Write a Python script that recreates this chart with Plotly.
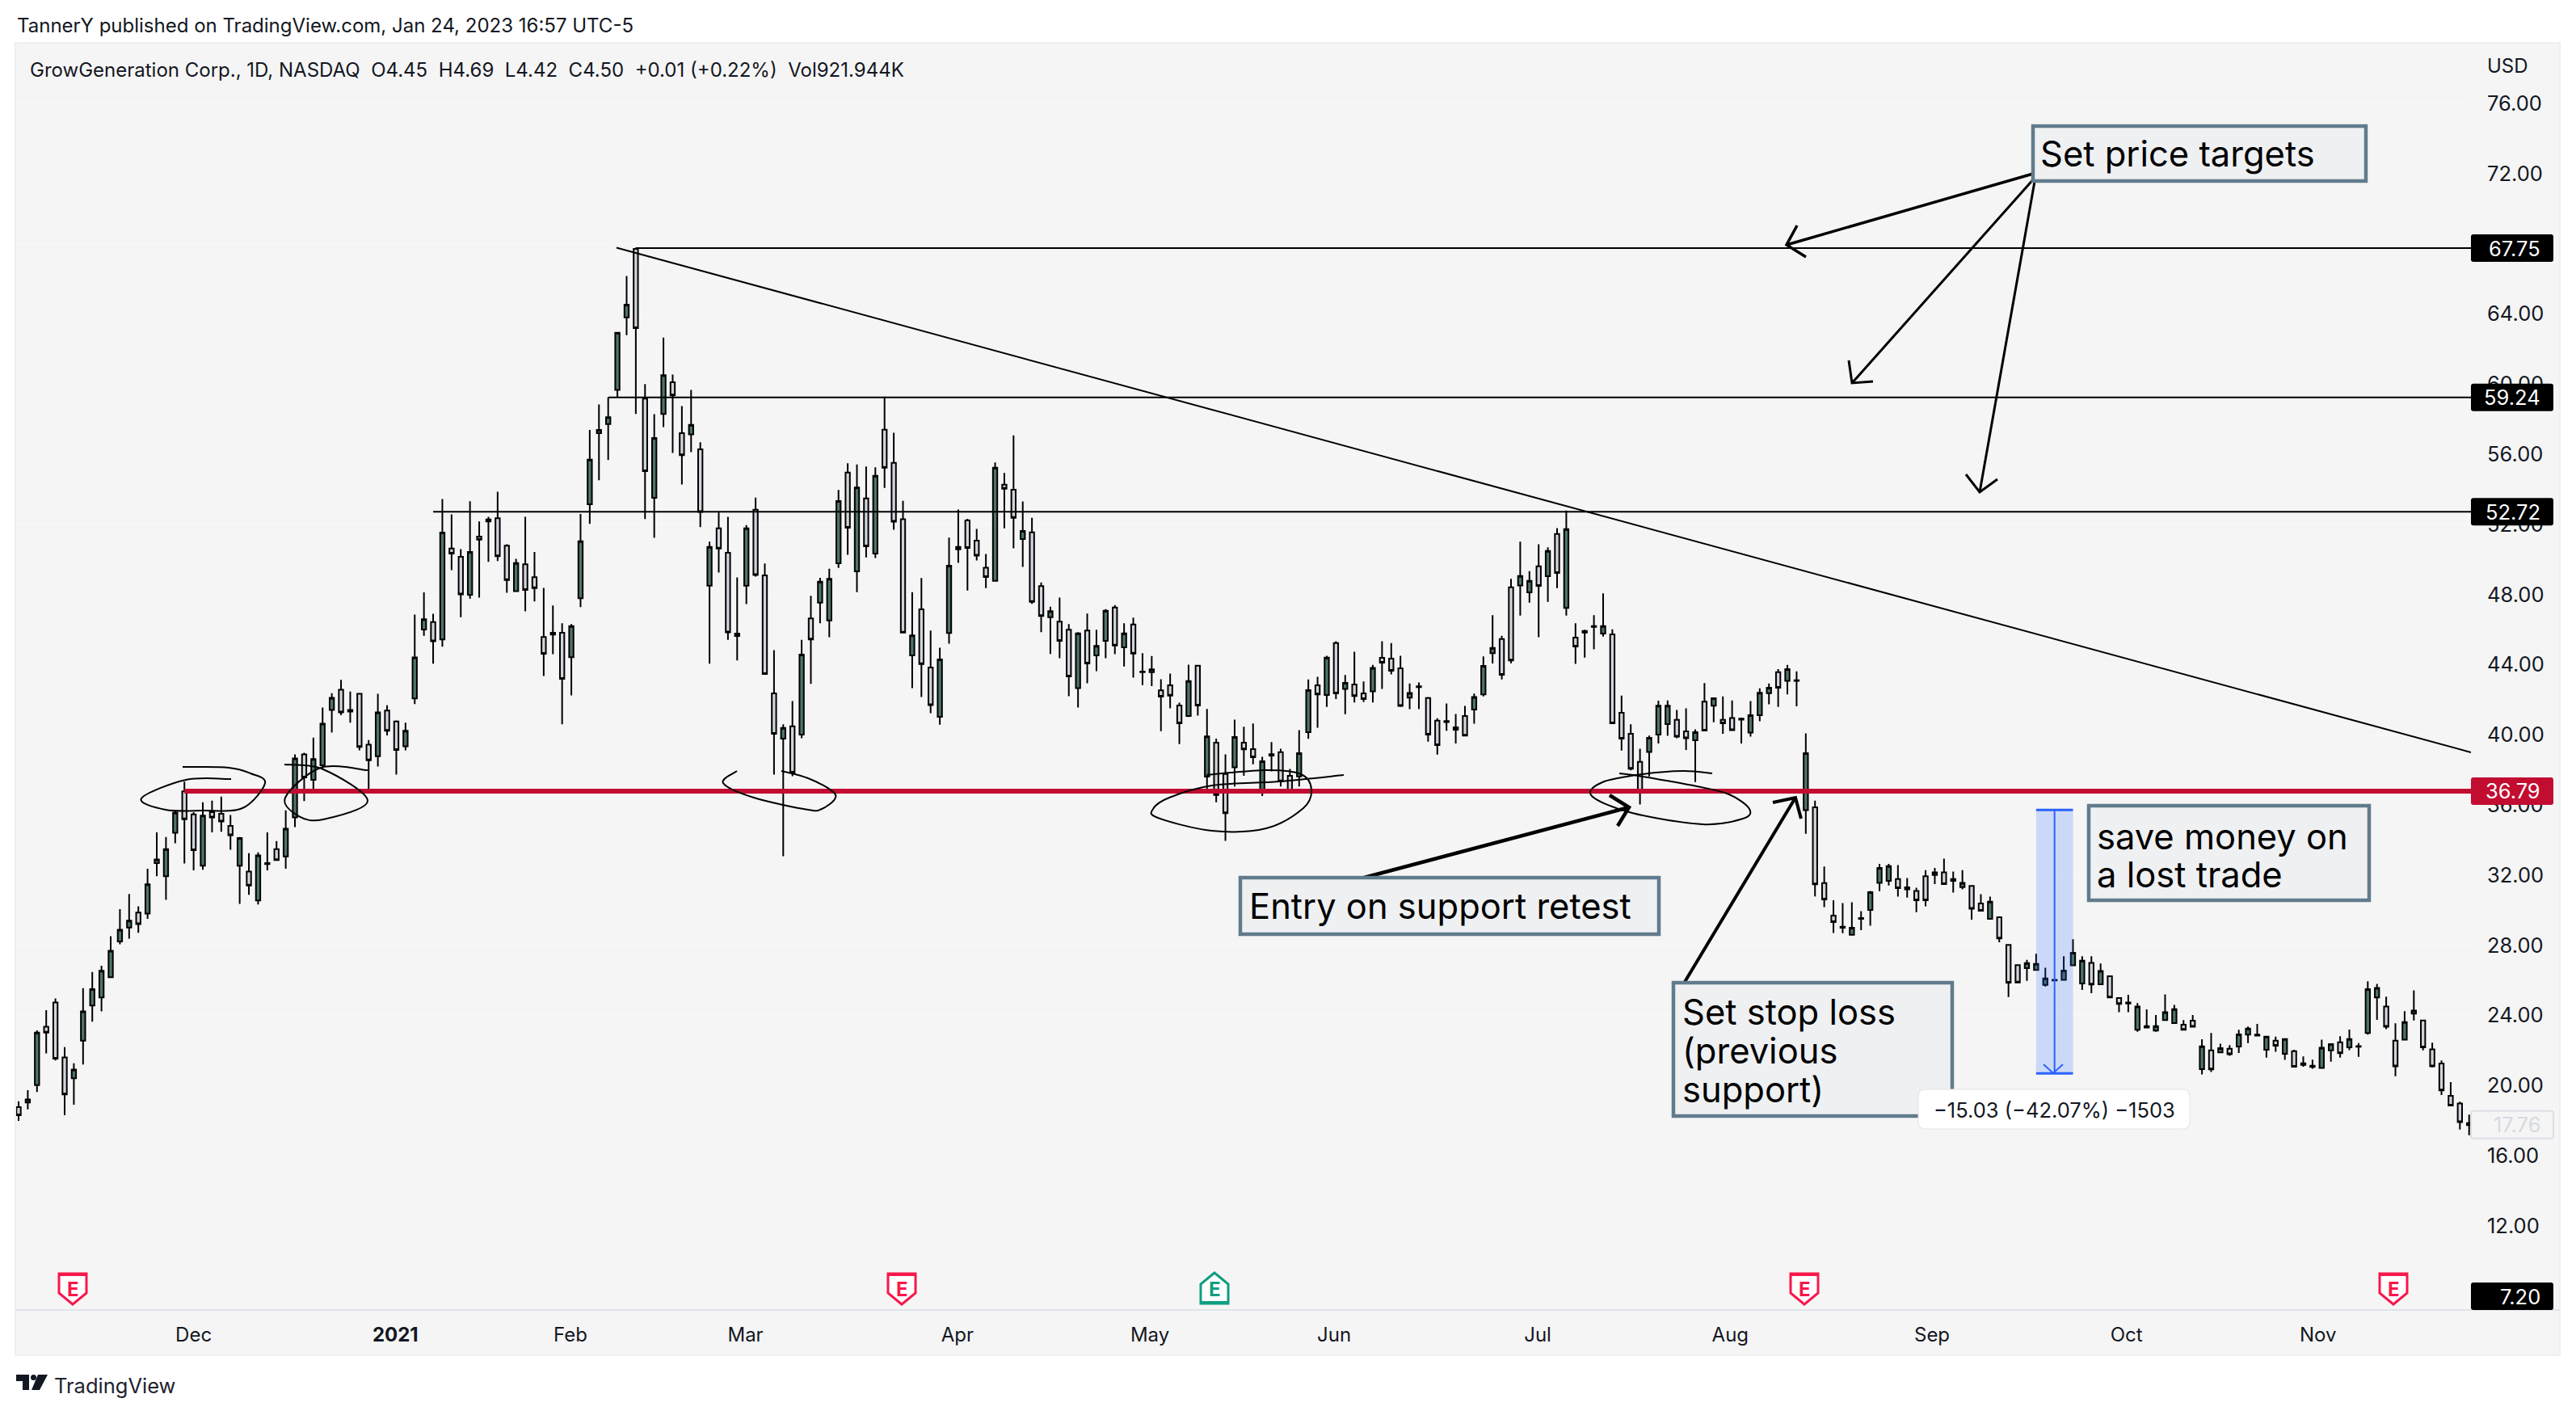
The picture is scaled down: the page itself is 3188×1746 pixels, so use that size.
import plotly.graph_objects as go

# Daily GrowGeneration candles, Nov 2020 - Nov 2021
highs = [
    19.10, 19.73, 23.15, 24.30, 24.96, 22.19, 21.27, 25.55, 26.47, 26.83, 28.51, 30.06, 30.92, 30.22, 32.36, 34.44,
    34.17, 35.66, 37.33, 35.59, 36.15, 36.25, 36.48, 35.43, 34.17, 33.25, 33.29, 34.44, 33.94, 35.69, 38.88, 38.98,
    39.84, 41.55, 42.37, 43.13, 42.47, 42.34, 39.70, 42.34, 41.68, 40.82, 40.69, 46.85,
    48.12, 46.90, 53.44, 52.57, 50.59, 53.32, 52.17, 52.43, 53.86, 50.87, 50.03, 52.43, 50.43, 48.38, 47.37, 46.36,
    46.31, 52.59, 57.39, 58.84, 59.24, 62.93, 66.16, 67.78, 60.00, 58.28, 62.65, 60.54, 58.75, 59.67, 56.68, 51.01,
    52.73, 52.43, 48.97, 51.96, 53.53, 49.77, 44.83, 40.60, 41.92, 45.42, 47.93, 48.95,
    49.47, 53.96, 55.48, 55.42, 55.30, 55.25, 59.29, 57.22, 53.34, 48.14, 48.94, 45.94, 44.97, 51.25, 52.85, 52.32,
    51.74, 50.31, 55.53, 54.93, 57.08, 53.31, 52.37, 48.69, 47.31, 47.82, 46.31, 45.85, 46.91, 45.99, 47.17, 47.40,
    46.36, 46.68, 44.65, 44.49, 43.17, 43.49, 41.83, 44.00, 43.98, 41.48, 39.78, 38.88,
    40.87, 40.46, 40.64, 38.74, 39.58, 39.20, 38.05, 40.27, 43.16, 43.31, 44.50, 45.34, 43.41, 44.74, 43.04, 43.99,
    45.34, 45.23, 44.51, 42.93, 42.99, 42.15, 40.95, 41.79, 41.19, 41.65, 42.35, 44.47, 46.82, 45.65, 48.89, 51.01,
    49.33, 50.87, 50.69, 51.79, 52.79, 46.36, 45.99, 46.82, 48.06, 46.02, 42.24, 40.60,
    39.20, 39.95, 41.95, 41.96, 41.42, 41.51, 40.31, 42.95, 42.11, 42.19, 41.96, 40.98, 41.93, 42.65, 42.93, 43.75,
    43.99, 43.62, 40.08, 36.25, 32.49, 30.56, 30.40, 30.45, 29.94, 31.10, 32.64, 32.64, 32.57, 31.83, 31.28, 32.28,
    32.41, 32.94, 32.20, 32.28, 31.40, 30.91, 30.77, 29.60, 28.03, 26.90, 27.17,
    27.51, 26.72, 26.02, 27.37, 28.34, 27.37, 27.37, 26.96, 26.25, 25.00, 25.17, 24.70, 24.34, 24.02, 25.20, 24.60,
    23.73, 24.02, 22.64, 22.99, 22.39, 22.30, 23.18, 23.36, 23.51, 22.79, 22.79, 22.68, 22.04, 21.66, 21.47, 22.62,
    22.39, 22.81, 23.19, 22.42, 25.94, 25.80, 25.07, 23.55, 24.24, 25.43, 23.76, 22.44, 21.43, 20.20, 19.08, 18.34,
]
body_tops = [
    18.77, 19.20, 23.02, 23.35, 24.73, 21.60, 20.91, 24.23, 25.49, 26.54, 27.69, 28.88, 29.40, 29.86, 31.48, 32.89,
    33.48, 35.56, 36.77, 35.46, 35.39, 35.59, 35.49, 34.80, 34.11, 32.20, 33.12, 32.69, 33.48, 34.64, 38.65, 38.88,
    38.62, 40.63, 42.11, 42.57, 41.42, 42.34, 39.44, 41.28, 41.38, 40.76, 40.23, 44.41,
    46.59, 46.43, 51.53, 50.62, 50.15, 50.43, 51.30, 52.28, 52.35, 50.78, 49.79, 49.72, 48.99, 45.58, 45.82, 45.82,
    46.20, 51.04, 55.69, 57.39, 58.11, 62.93, 64.53, 67.71, 59.17, 56.92, 60.51, 60.11, 57.20, 57.67, 56.28, 50.71,
    51.77, 50.38, 45.77, 51.77, 52.83, 49.09, 42.36, 40.39, 40.48, 44.57, 46.64, 48.73,
    48.90, 53.33, 54.95, 54.10, 53.48, 54.77, 57.40, 55.51, 52.29, 45.67, 47.15, 43.84, 44.30, 49.64, 50.72, 52.23,
    51.07, 49.53, 55.23, 54.26, 53.98, 51.62, 51.55, 48.48, 47.05, 46.45, 45.99, 45.78, 45.95, 45.07, 47.07, 47.26,
    45.78, 46.29, 43.61, 43.73, 42.53, 42.82, 41.67, 43.06, 43.94, 39.91, 39.55, 37.77,
    39.87, 39.55, 39.18, 38.49, 38.89, 39.01, 37.66, 38.95, 42.55, 42.82, 44.40, 45.23, 42.96, 42.87, 42.36, 43.81,
    44.39, 44.34, 43.79, 42.38, 42.76, 42.10, 40.81, 40.78, 40.43, 41.07, 42.15, 43.93, 44.96, 45.46, 48.41, 49.06,
    48.78, 49.61, 50.49, 51.45, 51.73, 45.54, 45.92, 46.20, 46.20, 45.73, 41.26, 40.06,
    38.46, 39.83, 41.66, 41.66, 40.85, 40.20, 40.15, 41.89, 42.09, 40.85, 40.96, 40.92, 41.12, 42.40, 42.69, 43.57,
    43.75, 43.11, 38.95, 35.86, 31.54, 29.69, 29.06, 29.00, 29.55, 31.03, 32.41, 32.51, 31.77, 31.30, 31.10, 31.93,
    32.16, 32.16, 31.77, 31.56, 31.38, 30.38, 30.48, 29.60, 28.02, 26.87, 26.98,
    26.94, 26.11, 26.02, 26.56, 27.57, 27.12, 26.99, 26.53, 26.23, 24.99, 24.73, 24.50, 23.39, 23.39, 24.18, 24.36,
    23.47, 23.70, 22.24, 22.01, 22.13, 22.10, 22.92, 23.25, 22.90, 22.79, 22.56, 22.65, 21.96, 21.27, 21.13, 22.15,
    22.36, 22.47, 22.65, 22.25, 25.50, 25.56, 24.50, 22.56, 23.62, 24.27, 23.71, 22.06, 21.26, 19.41, 18.97, 17.86,
]
body_bottoms = [
    18.31, 19.03, 20.02, 23.02, 21.53, 19.49, 20.42, 22.56, 24.56, 25.02, 26.18, 28.22, 29.01, 29.20, 29.80, 32.69,
    31.94, 34.41, 35.19, 33.42, 32.53, 35.29, 35.06, 34.27, 32.53, 31.41, 30.55, 32.63, 32.86, 33.06, 35.29, 37.57,
    37.43, 38.26, 41.42, 41.28, 41.32, 39.31, 38.55, 38.78, 40.23, 39.14, 39.34, 42.07,
    46.00, 45.33, 45.44, 50.33, 48.01, 47.98, 51.13, 52.17, 50.19, 48.83, 48.19, 48.26, 48.36, 44.62, 45.72, 43.19,
    44.43, 47.79, 53.15, 57.20, 57.72, 59.67, 63.80, 63.19, 55.03, 53.51, 58.30, 59.36, 55.95, 57.13, 52.71, 48.50,
    50.62, 45.84, 45.63, 48.50, 49.11, 43.47, 40.06, 39.78, 37.85, 40.01, 45.44, 47.54,
    46.52, 49.78, 51.81, 49.32, 50.75, 50.33, 55.23, 52.16, 45.83, 44.53, 44.03, 41.69, 41.03, 45.81, 50.58, 50.66,
    50.22, 49.00, 48.78, 54.03, 52.37, 51.17, 47.58, 46.78, 46.70, 45.36, 43.33, 42.66, 44.07, 44.53, 45.36, 45.09,
    44.99, 44.63, 43.57, 43.57, 42.18, 42.23, 40.66, 41.07, 41.67, 37.61, 36.57, 35.53,
    38.15, 39.17, 38.72, 36.74, 38.81, 37.35, 36.82, 37.63, 40.15, 42.30, 42.27, 42.36, 42.62, 42.21, 42.04, 42.48,
    44.11, 43.65, 41.65, 42.12, 42.72, 40.01, 39.41, 40.73, 40.29, 39.96, 41.44, 42.30, 44.65, 43.42, 44.24, 48.52,
    48.12, 48.49, 49.04, 49.23, 47.23, 45.03, 45.83, 46.15, 45.77, 40.66, 39.78, 38.07,
    36.80, 39.02, 40.01, 40.61, 39.90, 39.81, 39.69, 40.24, 41.66, 40.66, 40.27, 40.87, 40.13, 41.12, 42.37, 42.69,
    43.08, 43.08, 35.70, 31.47, 30.61, 29.32, 29.00, 28.60, 29.50, 30.01, 31.56, 31.67, 31.26, 31.19, 30.56, 30.56,
    32.00, 31.49, 31.67, 31.31, 30.08, 29.97, 29.50, 28.39, 25.86, 25.88, 26.69,
    26.59, 25.74, 25.99, 26.03, 26.86, 25.82, 25.76, 25.77, 25.02, 24.65, 24.68, 23.18, 23.31, 23.13, 23.73, 23.56,
    23.18, 23.35, 20.93, 20.92, 21.89, 21.79, 22.22, 22.90, 22.84, 22.04, 22.27, 21.81, 21.07, 21.18, 21.06, 21.00,
    22.00, 21.84, 22.18, 22.21, 22.99, 25.02, 23.35, 21.10, 22.62, 24.10, 22.18, 21.09, 19.72, 18.86, 17.91, 17.74,
]
lows = [
    17.98, 18.64, 19.63, 21.83, 21.43, 18.31, 18.90, 21.20, 23.64, 24.23, 26.18, 28.05, 28.38, 28.71, 29.50, 31.94,
    30.59, 33.81, 32.66, 32.27, 32.30, 34.44, 34.47, 33.45, 30.36, 30.88, 30.32, 32.27, 32.86, 32.36, 34.73, 36.22,
    36.91, 38.06, 40.13, 41.12, 40.69, 39.11, 36.85, 38.19, 39.97, 37.73, 39.11, 41.75,
    45.65, 44.06, 45.02, 49.39, 46.71, 47.77, 47.82, 49.86, 49.91, 48.10, 48.19, 47.04, 47.61, 43.35, 44.60, 40.60,
    42.25, 47.28, 52.03, 54.52, 55.67, 59.24, 62.79, 58.30, 52.31, 51.23, 57.55, 56.07, 54.28, 56.12, 51.84, 44.06,
    49.25, 45.42, 44.24, 47.46, 49.02, 43.47, 37.73, 33.08, 37.64, 39.80, 42.90, 46.36,
    45.57, 49.52, 50.26, 48.14, 50.12, 50.08, 54.08, 51.69, 45.83, 42.66, 42.15, 41.23, 40.58, 45.20, 49.80, 48.23,
    49.94, 48.37, 48.78, 51.77, 50.63, 49.57, 47.47, 45.85, 44.61, 44.37, 42.20, 41.56, 42.94, 43.63, 44.37, 44.60,
    43.89, 43.26, 42.83, 42.78, 40.21, 41.51, 39.47, 41.02, 41.09, 36.85, 36.15, 33.95,
    37.05, 37.66, 38.32, 36.51, 37.91, 37.05, 36.82, 37.05, 39.77, 40.40, 41.59, 42.04, 41.18, 41.84, 41.87, 41.84,
    42.61, 43.44, 41.59, 41.46, 41.46, 39.61, 38.87, 40.23, 39.50, 39.96, 40.63, 42.19, 44.07, 43.16, 44.08, 46.80,
    47.54, 45.56, 47.58, 48.37, 46.80, 44.04, 44.40, 44.87, 45.60, 40.66, 39.10, 37.97,
    36.02, 37.63, 39.51, 39.94, 39.80, 39.14, 37.31, 40.24, 40.71, 40.06, 40.27, 39.51, 39.90, 40.77, 41.74, 41.59,
    42.30, 41.63, 34.35, 30.78, 30.17, 28.70, 28.69, 28.55, 28.86, 29.11, 31.08, 31.40, 30.77, 30.71, 29.89, 30.22,
    31.49, 31.45, 31.00, 31.19, 29.46, 29.94, 29.50, 28.17, 25.05, 25.85, 25.97,
    26.59, 25.65, 25.99, 26.03, 26.86, 25.45, 25.26, 25.77, 25.02, 24.18, 24.18, 23.07, 23.31, 23.07, 23.73, 23.56,
    23.18, 23.31, 20.63, 20.77, 21.89, 21.69, 21.86, 22.42, 22.84, 21.59, 21.92, 21.46, 21.07, 21.07, 20.96, 20.96,
    21.36, 21.59, 22.02, 21.64, 22.90, 23.74, 23.22, 20.53, 22.62, 23.71, 22.00, 21.04, 19.46, 18.86, 17.49, 17.16,
]
# U = rising session, D = falling session
sessions = (
    "DUUDDDUUUUUUUDUUUUDDUDDDUDUUDUUDUUUDUDDUDDUU"
    "UDUDDUDUDDUDDDUDUUUUUUUDDUUDDUDUDDDUDDDUDUDU"
    "UUDUDUDDDUDDUUDDDDUDDUDDUDDUDUUDUDUUDDDUDUDD"
    "UDDUUDDUUDUDUDDUDDDUUDDUUDUUUDDUUDUDUDUUUDDDD"
    "UUUDDUDUDDDUUUDUDUDDDDUUUUUDDDDUDDUDDUDDDUU"
    "UUUUUDUDDDUDUUUDDUDUDUUDUDUDDUUUDUDUUDDUUDDDDDDU"
)

# Labels and levels printed on the chart
month_labels = ["Dec", "<b>2021</b>", "Feb", "Mar", "Apr", "May", "Jun", "Jul", "Aug", "Sep", "Oct", "Nov"]
month_bars = [19, 40.9, 59.9, 78.9, 101.9, 122.8, 142.8, 164.9, 185.8, 207.7, 228.8, 249.6]
price_ticks = [12, 16, 20, 24, 28, 32, 36, 40, 44, 48, 52, 56, 60, 64, 68, 72, 76]
target_levels = [67.75, 59.24, 52.72]
target_start_bars = [67, 64, 45]
support_level = 36.79
support_start_bar = 18
trend_bars = [64.9, 266.2]
trend_prices = [67.78, 39.0]
last_price = 17.76
axis_floor_price = 7.20
drop_from = 35.72
drop_to = 20.69
drop_bars = [219, 223]

WIDTH, HEIGHT = 3188, 1746
INK = "#131722"
PANEL = "#f5f5f5"
X_RANGE = [-0.263, 266.2]
Y_RANGE = [7.20, 79.46]
PLOT_LEFT, PLOT_RIGHT, PLOT_TOP, PLOT_BOTTOM = 20, 3058, 53, 1621

opens = [b if s == "U" else t for s, t, b in zip(sessions, body_tops, body_bottoms)]
closes = [t if s == "U" else b for s, t, b in zip(sessions, body_tops, body_bottoms)]
bar_index = list(range(len(closes)))


def fx(px):
    return px / WIDTH


def fy(px):
    return 1 - px / HEIGHT


def page_pt(x, y):
    return f"{fx(x):.5f},{fy(y):.5f}"


def polyline(points, closed=False):
    d = "M" + " L".join(page_pt(x, y) for x, y in points)
    return d + (" Z" if closed else "")


def freehand(points):
    """Smooth pen stroke through the given page points."""
    d = "M" + page_pt(*points[0])
    for i in range(len(points) - 1):
        p0 = points[max(i - 1, 0)]
        p1, p2 = points[i], points[i + 1]
        p3 = points[min(i + 2, len(points) - 1)]
        c1 = (p1[0] + (p2[0] - p0[0]) / 6, p1[1] + (p2[1] - p0[1]) / 6)
        c2 = (p2[0] - (p3[0] - p1[0]) / 6, p2[1] - (p3[1] - p1[1]) / 6)
        d += f" C{page_pt(*c1)} {page_pt(*c2)} {page_pt(*p2)}"
    return d


shapes = []
annotations = []


def page_shape(path, line_color="black", width=2, fill=None):
    shapes.append(dict(
        type="path", xref="paper", yref="paper", path=path, layer="above",
        line=dict(color=line_color, width=width),
        fillcolor=fill if fill else "rgba(0,0,0,0)",
    ))


def page_text(x, y, text, size=24, color=INK, anchor="left"):
    annotations.append(dict(
        xref="paper", yref="paper", x=fx(x), y=fy(y), text=text, showarrow=False,
        xanchor=anchor, yanchor="middle", align=anchor, borderpad=0,
        font=dict(family="Inter", size=size, color=color),
    ))


def price_level(bar_from, price, color, width):
    shapes.append(dict(
        type="line", xref="x", yref="y", layer="above",
        x0=bar_from, x1=X_RANGE[1], y0=price, y1=price,
        line=dict(color=color, width=width),
    ))


def rounded_box(x0, y0, x1, y1, r):
    return (
        f"M{page_pt(x0 + r, y0)} L{page_pt(x1 - r, y0)} Q{page_pt(x1, y0)} {page_pt(x1, y0 + r)}"
        f" L{page_pt(x1, y1 - r)} Q{page_pt(x1, y1)} {page_pt(x1 - r, y1)}"
        f" L{page_pt(x0 + r, y1)} Q{page_pt(x0, y1)} {page_pt(x0, y1 - r)}"
        f" L{page_pt(x0, y0 + r)} Q{page_pt(x0, y0)} {page_pt(x0 + r, y0)} Z"
    )


def price_tag(y_mid, label, fill, text_color="white", border=None):
    page_shape(
        rounded_box(3058, y_mid - 17, 3160, y_mid + 17, 3),
        line_color=border or fill, width=2 if border else 0, fill=fill,
    )
    page_text(3145, y_mid, label, size=25.5, color=text_color, anchor="right")


def note_box(x0, y0, x1, y1, lines, text_x, line_ys, size=43.5):
    page_shape(polyline([(x0, y0), (x1, y0), (x1, y1), (x0, y1)], True),
               line_color="#607b8c", width=4.5, fill="#eff0f2")
    for line, y in zip(lines, line_ys):
        page_text(text_x, y, line, size=size, color="black")


def arrow(start, tip, barb_a, barb_b, width):
    page_shape(polyline([start, tip]), width=width)
    page_shape(polyline([barb_a, tip, barb_b]), width=width)


def earnings_flag(cx, color, up=False):
    if up:
        pts = [(cx - 17, 1613), (cx + 17, 1613), (cx + 17, 1589), (cx, 1575), (cx - 17, 1589)]
        band = polyline([(cx - 17, 1612), (cx + 17, 1612)])
    else:
        pts = [(cx - 17, 1576), (cx + 17, 1576), (cx + 17, 1600), (cx, 1614), (cx - 17, 1600)]
        band = polyline([(cx - 17, 1577), (cx + 17, 1577)])
    page_shape(polyline(pts, True), line_color=color, width=3, fill="white")
    page_shape(band, line_color=color, width=4)
    page_text(cx, 1595, "<b>E</b>", size=24, color=color, anchor="center")


# Chart panel and the time-scale divider
page_shape(polyline([(19, 53), (3168, 53), (3168, 1677), (19, 1677)], True),
           line_color="#eeeef3", width=2, fill=PANEL)
shapes[-1]["layer"] = "below"
page_shape(polyline([(20, 1621), (3168, 1621)]), line_color="#e0e3eb", width=2)
shapes[-1]["layer"] = "below"

# Resistance targets, support and the falling trend line
for level, start in zip(target_levels, target_start_bars):
    price_level(start, level, "black", 2)
shapes.append(dict(type="line", xref="x", yref="y", layer="above",
                   x0=trend_bars[0], x1=trend_bars[1], y0=trend_prices[0], y1=trend_prices[1],
                   line=dict(color="black", width=2)))
price_level(support_start_bar, support_level, "#c20d31", 6)

# Pen circles drawn around the support touches
pen_strokes = [
    [(286, 964), (230, 965), (175, 988), (205, 1002), (250, 1003), (300, 1000), (328, 969),
     (310, 957), (283, 950), (226, 949)],
    [(352, 946), (400, 952), (455, 991), (400, 1014), (370, 1010), (353, 987), (397, 950), (455, 953)],
    [(912, 954), (895, 969), (933, 987), (1000, 1002), (1017, 1001), (1033, 989), (1030, 979),
     (1000, 963), (967, 954)],
    [(1493, 959), (1567, 953), (1610, 958), (1623, 977), (1613, 1000), (1567, 1025), (1500, 1028),
     (1433, 1012), (1427, 1001), (1447, 987), (1500, 972), (1583, 967), (1663, 959)],
    [(2004, 957), (2033, 961), (2100, 973), (2140, 983), (2165, 1001), (2157, 1013), (2107, 1020),
     (2020, 1006), (1970, 985), (1983, 968), (2033, 958), (2083, 954), (2119, 957)],
]
for stroke in pen_strokes:
    page_shape(freehand(stroke), width=2)

# Callout arrows
arrow((2516, 215), (2211, 303), (2224, 279), (2235, 318), 3.5)
arrow((2519, 219), (2292, 474), (2288, 446), (2318, 472), 3)
arrow((2519, 219), (2450, 609), (2433, 587), (2472, 593), 3)
arrow((1688, 1086), (2016, 999), (1992, 984), (2002, 1022), 4.5)
arrow((2085, 1215), (2222, 987), (2194, 993), (2229, 1013), 4)

# Measured drop after the stop level
shapes.append(dict(type="rect", xref="x", yref="y", layer="above", x0=drop_bars[0], x1=drop_bars[1],
                   y0=drop_to, y1=drop_from, fillcolor="rgba(41,98,255,0.2)", line=dict(width=0)))
drop_mid = (drop_bars[0] + drop_bars[1]) / 2
for price in (drop_from, drop_to):
    shapes.append(dict(type="line", xref="x", yref="y", layer="above", x0=drop_bars[0], x1=drop_bars[1],
                       y0=price, y1=price, line=dict(color="#2962ff", width=3)))
shapes.append(dict(type="line", xref="x", yref="y", layer="above", x0=drop_mid, x1=drop_mid,
                   y0=drop_from, y1=drop_to, line=dict(color="#2962ff", width=2)))
page_shape(polyline([(2529, 1317), (2541, 1328), (2553, 1317)]), line_color="#2962ff", width=2)

# Text notes
note_box(2516, 156, 2928, 224, ["Set price targets"], 2524, [190])
note_box(1535, 1086, 2053, 1156, ["Entry on support retest"], 1545, [1121])
note_box(2071, 1216, 2416, 1381, ["Set stop loss", "(previous", "support)"], 2081, [1252, 1300, 1348])
note_box(2585, 997, 2932, 1114, ["save money on", "a lost trade"], 2594, [1035, 1082])

# Measurement readout
page_shape(rounded_box(2374, 1348, 2710, 1397, 9), line_color="#e4e4e8", width=1, fill="white")
page_text(2542, 1373, "\u221215.03 (\u221242.07%) \u22121503", size=25.5, anchor="center")

# Price tags on the scale
pixels_per_unit = (PLOT_BOTTOM - PLOT_TOP) / (Y_RANGE[1] - Y_RANGE[0])


def tag_y(price):
    return PLOT_BOTTOM - (price - Y_RANGE[0]) * pixels_per_unit


for level in target_levels:
    price_tag(tag_y(level), f"{level:.2f}", "black")
price_tag(tag_y(support_level), f"{support_level:.2f}", "#c20d31")
price_tag(tag_y(last_price), f"{last_price:.2f}", PANEL, text_color="#d6d9e1", border="#dcdfe7")
price_tag(1604, f"{axis_floor_price:.2f}", "black")

# Earnings flags
for cx in (90, 1116, 2233, 2962):
    earnings_flag(cx, "#f7184b")
earnings_flag(1503, "#0f9d80", up=True)

# Header, scale title and footer
page_text(20, 31, "TannerY published on TradingView.com, Jan 24, 2023 16:57 UTC-5", size=24)
page_text(36, 86, "GrowGeneration Corp., 1D, NASDAQ\u00a0\u00a0O4.45\u00a0\u00a0H4.69\u00a0\u00a0L4.42"
                  "\u00a0\u00a0C4.50\u00a0\u00a0+0.01 (+0.22%)\u00a0\u00a0Vol921.944K", size=24)
page_text(3077, 81, "USD", size=24)
page_text(66, 1714, "TradingView", size=25.5, color="#1e222d")

# TradingView mark
page_shape(polyline([(20, 1701), (36, 1701), (36, 1720), (28, 1720), (28, 1709), (20, 1709)], True),
           line_color=INK, width=0, fill=INK)
page_shape(polyline([(47, 1701), (59, 1701), (49, 1720), (39, 1720)], True),
           line_color=INK, width=0, fill=INK)
shapes.append(dict(type="circle", xref="paper", yref="paper", layer="above",
                   x0=fx(38), x1=fx(45), y0=fy(1708), y1=fy(1701), fillcolor=INK, line=dict(width=0)))

fig = go.Figure(go.Candlestick(
    x=bar_index, open=opens, high=highs, low=lows, close=closes,
    increasing=dict(fillcolor="#4f746a", line=dict(color="black", width=2)),
    decreasing=dict(fillcolor="#d1d4dc", line=dict(color="black", width=2)),
    whiskerwidth=0, hoverinfo="skip",
))

fig.update_layout(
    width=WIDTH, height=HEIGHT, autosize=False,
    margin=dict(l=0, r=0, t=0, b=0, pad=0),
    paper_bgcolor="white", plot_bgcolor="rgba(0,0,0,0)",
    showlegend=False, boxgap=0.53, boxgroupgap=0,
    font=dict(family="Inter", size=24, color=INK),
    shapes=shapes, annotations=annotations,
    xaxis=dict(
        domain=[fx(PLOT_LEFT), fx(PLOT_RIGHT)], range=X_RANGE, rangeslider=dict(visible=False),
        tickmode="array", tickvals=month_bars, ticktext=month_labels, ticks="",
        showgrid=False, showline=False, zeroline=False, ticklabelstandoff=14,
        tickfont=dict(family="Inter", size=24, color=INK),
    ),
    yaxis=dict(
        domain=[fy(PLOT_BOTTOM), fy(PLOT_TOP)], range=Y_RANGE, side="right",
        tickmode="array", tickvals=price_ticks, ticktext=[f"{t:.2f}" for t in price_ticks], ticks="",
        showgrid=True, gridcolor="#f7f7f7", gridwidth=2, showline=False, zeroline=False,
        ticklabelstandoff=19, tickfont=dict(family="Inter", size=25.5, color=INK),
    ),
)

fig.write_html("out.html", config=dict(displayModeBar=False))
